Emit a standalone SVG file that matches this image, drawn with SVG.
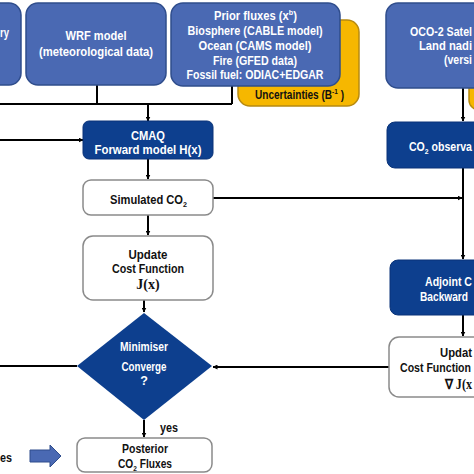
<svg xmlns="http://www.w3.org/2000/svg" width="474" height="474" viewBox="0 0 474 474">
<defs>
<style>
.lb{fill:#4A69B3;stroke:#2F4D8C;stroke-width:1.5}
.db{fill:#0D3F8E;stroke:#0A3378;stroke-width:1}
.yb{fill:#F6B700;stroke:#B78A10;stroke-width:1.5}
.wb{fill:#FFFFFF;stroke:#8A8A8A;stroke-width:1.5}
text{font-family:"Liberation Sans",Arial,sans-serif;font-weight:bold;font-size:12.5px}
.w{fill:#FFFFFF}
.k{fill:#111111}
.c{text-anchor:middle}
.s{font-family:"Liberation Serif","Times New Roman",serif;font-size:14px}
.sm{font-size:8px}
.ln{fill:none;stroke:#000;stroke-width:2}
</style>
<marker id="ah" viewBox="0 0 10 10" refX="9" refY="5" markerWidth="5" markerHeight="5" orient="auto" markerUnits="userSpaceOnUse">
<path d="M0,0 L10,5 L0,10 Z" fill="#000"/>
</marker>
</defs>
<rect width="474" height="474" fill="#FFFFFF"/>

<g id="connectors">
<path class="ln" d="M97,85 V104 M232,86 V104 M0,104 H232"/>
<path class="ln" d="M148,104 V121" marker-end="url(#ah)"/>
<path class="ln" d="M0,140 H83" marker-end="url(#ah)"/>
<path class="ln" d="M148,159 V179" marker-end="url(#ah)"/>
<path class="ln" d="M213,198 H462" marker-end="url(#ah)"/>
<path class="ln" d="M148,215 V235" marker-end="url(#ah)"/>
<path class="ln" d="M144,300 V312" marker-end="url(#ah)"/>
<path class="ln" d="M463,88 V121" marker-end="url(#ah)"/>
<path class="ln" d="M463,168 V259" marker-end="url(#ah)"/>
<path class="ln" d="M463,315 V336" marker-end="url(#ah)"/>
<path class="ln" d="M389,367 H213" marker-end="url(#ah)"/>
<path class="ln" d="M0,366 H77"/>
<path class="ln" d="M144,420 V437" marker-end="url(#ah)"/>
<path d="M30,450 H50 V445 L61,456 L50,467 V462 H30 Z" fill="#4A69B3" stroke="#2F4D8C" stroke-width="1"/>
</g>

<g id="boundary">
<rect class="lb" x="-20" y="3" width="41" height="82" rx="12"/>
<text class="w" x="0" y="37" textLength="9" lengthAdjust="spacingAndGlyphs">ry</text>
</g>

<g id="wrf">
<rect class="lb" x="26" y="3" width="140" height="82" rx="12"/>
<text class="w c" x="96" y="40" textLength="61" lengthAdjust="spacingAndGlyphs">WRF model</text>
<text class="w c" x="96" y="56" textLength="114" lengthAdjust="spacingAndGlyphs">(meteorological data)</text>
</g>

<g id="uncertainties">
<rect class="yb" x="238" y="20" width="121" height="86" rx="12"/>
<text class="k" x="255" y="99" textLength="89" lengthAdjust="spacingAndGlyphs">Uncertainties (B<tspan class="sm" dy="-5">-1</tspan><tspan dy="5"> )</tspan></text>
</g>

<g id="prior">
<rect class="lb" x="171" y="3" width="169" height="83" rx="12"/>
<text class="w" x="214" y="19.5" textLength="83" lengthAdjust="spacingAndGlyphs">Prior fluxes (x<tspan class="sm" dy="-5">b</tspan><tspan dy="5">)</tspan></text>
<text class="w c" x="255" y="34.5" textLength="135" lengthAdjust="spacingAndGlyphs">Biosphere (CABLE model)</text>
<text class="w c" x="255" y="49.5" textLength="113" lengthAdjust="spacingAndGlyphs">Ocean (CAMS model)</text>
<text class="w c" x="255" y="64.5" textLength="84" lengthAdjust="spacingAndGlyphs">Fire (GFED data)</text>
<text class="w c" x="255" y="79" textLength="137" lengthAdjust="spacingAndGlyphs">Fossil fuel: ODIAC+EDGAR</text>
</g>

<g id="oco2-uncert">
<rect class="yb" x="469" y="60" width="40" height="50" rx="10"/>
</g>

<g id="oco2">
<rect class="lb" x="386" y="3" width="120" height="85" rx="12"/>
<text class="w" x="410" y="36" textLength="62" lengthAdjust="spacingAndGlyphs">OCO-2 Satel</text>
<text class="w" x="419" y="50" textLength="53" lengthAdjust="spacingAndGlyphs">Land nadi</text>
<text class="w" x="444" y="64" textLength="28" lengthAdjust="spacingAndGlyphs">(versi</text>
</g>

<g id="cmaq">
<rect class="db" x="83" y="121" width="130" height="38" rx="6"/>
<text class="w c" x="148" y="139.5" textLength="34" lengthAdjust="spacingAndGlyphs">CMAQ</text>
<text class="w c" x="148" y="153.5" textLength="107" lengthAdjust="spacingAndGlyphs">Forward model H(x)</text>
</g>

<g id="co2obs">
<rect class="db" x="387" y="122" width="110" height="46" rx="8"/>
<text class="w" x="409" y="151" textLength="63" lengthAdjust="spacingAndGlyphs">CO<tspan class="sm" dy="3">2</tspan><tspan dy="-3"> observa</tspan></text>
</g>

<g id="simulated">
<rect class="wb" x="83" y="180" width="130" height="35" rx="8"/>
<text class="k" x="110" y="204" textLength="77" lengthAdjust="spacingAndGlyphs">Simulated CO<tspan class="sm" dy="3">2</tspan></text>
</g>

<g id="update-j">
<rect class="wb" x="83" y="236" width="130" height="64" rx="10"/>
<text class="k c" x="148" y="259" textLength="39" lengthAdjust="spacingAndGlyphs">Update</text>
<text class="k c" x="148" y="273" textLength="72" lengthAdjust="spacingAndGlyphs">Cost Function</text>
<text class="k c s" x="148" y="289">J(x)</text>
</g>

<g id="adjoint">
<rect class="db" x="390" y="260" width="110" height="55" rx="8"/>
<text class="w" x="425" y="286" textLength="47" lengthAdjust="spacingAndGlyphs">Adjoint C</text>
<text class="w" x="420" y="301" textLength="48" lengthAdjust="spacingAndGlyphs">Backward</text>
</g>

<g id="update-grad">
<rect class="wb" x="389" y="337" width="110" height="60" rx="10"/>
<text class="k" x="440" y="357" textLength="32" lengthAdjust="spacingAndGlyphs">Updat</text>
<text class="k" x="400" y="372" textLength="71" lengthAdjust="spacingAndGlyphs">Cost Function</text>
<text class="k s" x="445" y="389" textLength="27" lengthAdjust="spacingAndGlyphs">∇ J(x</text>
</g>

<g id="minimiser">
<path d="M144,313 L212,366 L144,420 L77,366 Z" fill="#0D3F8E"/>
<text class="w c" x="144" y="351" textLength="48" lengthAdjust="spacingAndGlyphs">Minimiser</text>
<text class="w c" x="144" y="371" textLength="45" lengthAdjust="spacingAndGlyphs">Converge</text>
<text class="w c" x="144" y="385">?</text>
</g>

<text class="k" x="160" y="432" textLength="18" lengthAdjust="spacingAndGlyphs">yes</text>

<g id="posterior">
<rect class="wb" x="77" y="438" width="135" height="34" rx="8"/>
<text class="k c" x="145" y="453" textLength="46" lengthAdjust="spacingAndGlyphs">Posterior</text>
<text class="k" x="118" y="468" textLength="54" lengthAdjust="spacingAndGlyphs">CO<tspan class="sm" dy="3">2</tspan><tspan dy="-3"> Fluxes</tspan></text>
</g>

<g id="legend">
<text class="k" x="0" y="462" textLength="12" lengthAdjust="spacingAndGlyphs">es</text>
</g>
</svg>
